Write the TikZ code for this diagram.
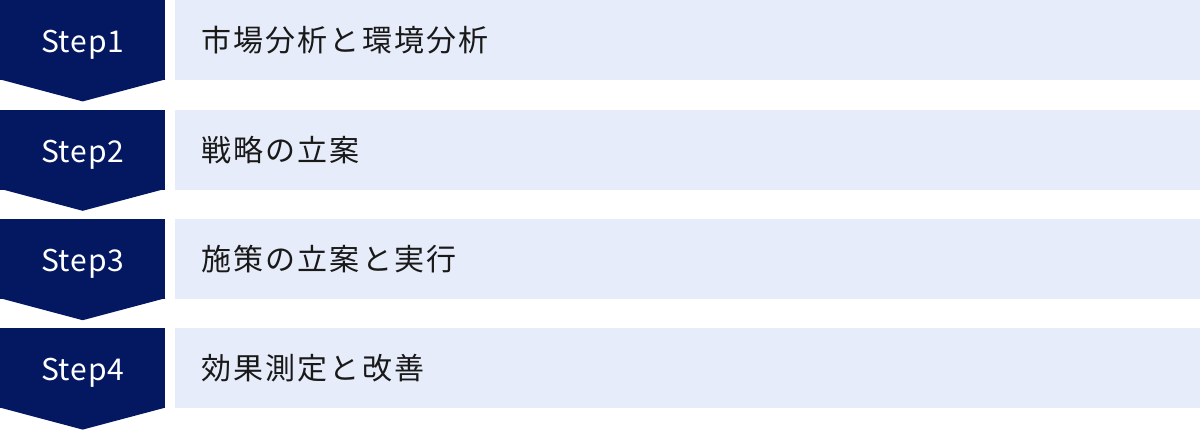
\documentclass[tikz,border=0pt]{standalone}
\usepackage{fontspec}
\setmainfont{Noto Sans CJK JP}
\newfontfamily\stepfont[LetterSpace=3]{Noto Sans CJK JP}
\newfontfamily\taskfont[LetterSpace=7]{Noto Sans CJK JP}
\usepackage{tikz}
\usetikzlibrary{positioning}
\definecolor{stepnavy}{HTML}{041862}
\definecolor{taskfill}{HTML}{E6ECF9}

\begin{document}
\begin{tikzpicture}[
  node distance=29pt,
  stepbox/.style={rectangle, fill=stepnavy, text=white, minimum width=165pt, minimum height=80pt, inner sep=0pt, text height=25pt, text depth=0pt, font=\stepfont\fontsize{30}{32}\selectfont},
  taskbox/.style={rectangle, fill=taskfill, text=black!90, minimum height=80pt, text width=972pt, inner xsep=27pt, inner ysep=0pt, text height=22.8pt, text depth=0pt, align=left, font=\taskfont\fontsize{30}{32}\selectfont},
  steptip/.style={fill=stepnavy}
]
  \useasboundingbox (0,0) rectangle (1200pt,-429pt);
  \node[stepbox, anchor=north west] (s1) at (0,0) {Step1};
  \node[stepbox, below=of s1] (s2) {Step2};
  \node[stepbox, below=of s2] (s3) {Step3};
  \node[stepbox, below=of s3] (s4) {Step4};
  \node[taskbox, right=9pt of s1] (t1) {市場分析と環境分析};
  \node[taskbox, right=9pt of s2] (t2) {戦略の立案};
  \node[taskbox, right=9pt of s3] (t3) {施策の立案と実行};
  \node[taskbox, right=9pt of s4] (t4) {効果測定と改善};
  % chevron tips
  \fill[steptip] ([yshift=1pt]s1.south west) -- ([yshift=1pt]s1.south east) -- ([yshift=-21pt]s1.south) -- cycle;
  \fill[steptip] ([yshift=1pt]s2.south west) -- ([yshift=1pt]s2.south east) -- ([yshift=-21pt]s2.south) -- cycle;
  \fill[steptip] ([yshift=1pt]s3.south west) -- ([yshift=1pt]s3.south east) -- ([yshift=-21pt]s3.south) -- cycle;
  \fill[steptip] ([yshift=1pt]s4.south west) -- ([yshift=1pt]s4.south east) -- ([yshift=-21pt]s4.south) -- cycle;
\end{tikzpicture}
\end{document}
